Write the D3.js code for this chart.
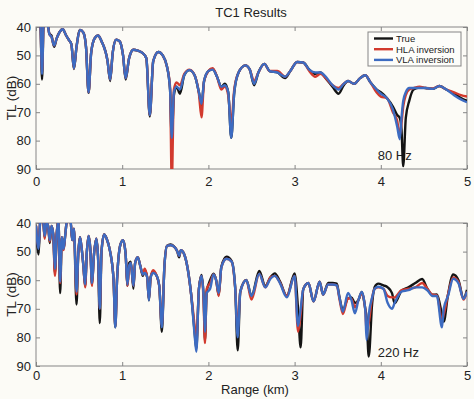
<!DOCTYPE html>
<html>
<head>
<meta charset="utf-8">
<script src="https://cdn.jsdelivr.net/npm/d3@7"></script>
<style>
  html, body { margin: 0; padding: 0; background: #fcfbf6; }
  svg { display: block; font-family: "Liberation Sans", Arial, sans-serif; }
</style>
</head>
<body>
<div id="chart"></div>
<script>
// TC1 results - transmission loss vs range, two frequencies

const seriesNames = ['True', 'HLA inversion', 'VLA inversion'];
const seriesColors = ['#141414', '#d23a2e', '#3d6bc1'];
const xTicks = [0, 1, 2, 3, 4, 5];
const yTicks = [40, 50, 60, 70, 80, 90];

// 80 Hz panel (range in km, TL in dB)
const range80 = [
  0, 0.05, 0.07, 0.09, 0.13, 0.155, 0.18, 0.21, 0.24, 0.28,
  0.31, 0.35, 0.38, 0.41, 0.44, 0.47, 0.51, 0.55, 0.58, 0.61,
  0.64, 0.68, 0.72, 0.76, 0.83, 0.86, 0.89, 0.93, 0.97, 1.01,
  1.04, 1.08, 1.13, 1.18, 1.23, 1.28, 1.32, 1.36, 1.42, 1.47,
  1.52, 1.555, 1.575, 1.6, 1.63, 1.67, 1.72, 1.78, 1.84, 1.89,
  1.92, 1.95, 2.0, 2.05, 2.1, 2.15, 2.19, 2.23, 2.265, 2.3,
  2.35, 2.43, 2.48, 2.53, 2.58, 2.65, 2.71, 2.8, 2.89, 2.95,
  3.03, 3.1, 3.17, 3.24, 3.3, 3.36, 3.44, 3.51, 3.57, 3.62,
  3.69, 3.76, 3.82, 3.88, 3.95, 4.0, 4.07, 4.14, 4.19, 4.22,
  4.24, 4.26, 4.29, 4.33, 4.38, 4.45, 4.52, 4.6, 4.68, 4.76,
  4.85, 4.93, 5.0
];
const true80 = [
  35, 38, 58.5, 37, 38, 42.3, 43, 47, 44, 41.5,
  40.8, 43, 44.5, 46, 54.8, 47, 41, 42, 47, 63.2,
  49, 44, 43, 45, 52, 59, 49, 44.5, 45, 50,
  58.5, 51, 48, 48.3, 49, 51, 71.5, 52, 48.8, 50,
  54, 62, 79.5, 64, 61, 63.5, 57, 55.2, 57, 63,
  67.5, 59, 55.5, 54.8, 57.5, 61, 60, 63, 79, 63,
  56, 53.5, 55, 60.5, 56, 53, 55.5, 56, 58, 55.5,
  52.3, 52.5, 55, 56.5, 56, 58, 61, 63.5, 60.5, 59,
  60, 58, 57, 59.5, 62, 63, 65, 68, 71, 72,
  76, 89, 72, 66, 62, 61.3, 61.5, 61.8, 60.8, 62,
  63.5, 65, 66
];
const hla80 = [
  35, 38, 56, 37, 38, 42.5, 43.5, 46.5, 44, 41.5,
  40.8, 43, 44.5, 46, 54.5, 47, 41, 42, 47, 63,
  49, 44, 43, 45, 52, 58.5, 49, 44.5, 45, 50,
  58, 51, 48, 48.3, 49, 51, 71, 52, 48.8, 50,
  54, 61, 95, 62, 59.5, 60.5, 56.5, 55, 57, 63.5,
  71.8, 59, 55.5, 54.5, 57.5, 62, 61, 64, 74, 62,
  56, 53.5, 55, 59, 56, 53, 55.5, 55.5, 57.5, 55.5,
  52.3, 52.5, 55.5, 57.5, 56.5, 58, 60.5, 61.5, 60, 59,
  60, 58, 57, 59.5, 63, 64.5, 65, 70, 73, 78,
  74, 68, 64, 62, 61.5, 61, 61.5, 61.6, 60.8, 62,
  63, 64, 64.5
];
const vla80 = [
  35, 38, 56.5, 37, 38, 42.5, 43.5, 46.5, 44, 41.5,
  40.8, 43, 44.5, 46, 54.5, 47, 41, 42, 47, 63,
  49, 44, 43, 45, 52, 58.5, 49, 44.5, 45, 50,
  58, 51, 48, 48.3, 49, 51, 71, 52, 48.8, 50,
  54, 62, 79, 63, 61, 62, 57, 55.2, 57, 63,
  67, 59, 55.5, 55, 57.5, 61, 60.5, 63, 79, 63,
  56, 53.5, 55, 60, 56, 53, 55.5, 56, 57.5, 55.5,
  52.3, 52.5, 55, 56, 56, 57.5, 60.5, 62, 60, 59,
  60, 58, 57, 59.5, 62, 63.5, 65, 69, 75, 79.5,
  72, 66, 63, 61.5, 61.5, 61.5, 61.5, 61.8, 60.8, 62,
  64, 65.5, 66.5
];

// 220 Hz panel
const range220 = [
  0, 0.03, 0.05, 0.08, 0.10, 0.12, 0.14, 0.16, 0.18, 0.20,
  0.22, 0.24, 0.26, 0.28, 0.30, 0.32, 0.34, 0.36, 0.40, 0.42,
  0.44, 0.47, 0.49, 0.51, 0.53, 0.55, 0.57, 0.59, 0.61, 0.63,
  0.65, 0.67, 0.70, 0.72, 0.74, 0.76, 0.79, 0.82, 0.86, 0.90,
  0.92, 0.94, 0.98, 1.01, 1.04, 1.06, 1.08, 1.10, 1.13, 1.15,
  1.18, 1.21, 1.24, 1.26, 1.29, 1.31, 1.33, 1.36, 1.40, 1.43,
  1.46, 1.49, 1.52, 1.56, 1.60, 1.64, 1.66, 1.68, 1.72, 1.76,
  1.80, 1.84, 1.86, 1.89, 1.92, 1.945, 1.96, 1.98, 2.02, 2.06,
  2.09, 2.12, 2.15, 2.21, 2.27, 2.31, 2.34, 2.37, 2.44, 2.50,
  2.59, 2.66, 2.72, 2.77, 2.83, 2.91, 3.00, 3.04, 3.07, 3.10,
  3.16, 3.22, 3.29, 3.33, 3.39, 3.44, 3.49, 3.52, 3.56, 3.62,
  3.66, 3.70, 3.74, 3.78, 3.82, 3.835, 3.86, 3.90, 3.93, 3.97,
  4.03, 4.08, 4.13, 4.16, 4.24, 4.32, 4.40, 4.48, 4.54, 4.60,
  4.65, 4.71, 4.73, 4.78, 4.84, 4.90, 4.96, 5.0
];
const true220 = [
  41, 51, 39, 38, 45, 40, 41, 47, 41, 44,
  57.5, 44, 39, 64.5, 45, 49, 44, 39, 39, 46,
  42, 68.5, 51, 45, 49, 55, 62, 50, 44.5, 49,
  61.5, 52, 45.5, 52, 75, 50, 44, 45.5, 50, 60,
  76.5, 60, 47.5, 46, 51, 62, 54, 53.5, 63, 54,
  52, 55, 58.5, 56.5, 59, 67, 59, 57, 58.5, 62,
  78, 55, 48, 47.5, 48.2, 50, 52, 49.5, 51, 56,
  65, 78, 84, 63, 58.2, 66, 81, 64, 60, 57.7,
  60, 65.2, 55.3, 51.8, 53.3, 62.3, 84.5, 64, 59.9, 65.5,
  56.8, 62, 59, 57.6, 60.4, 65.5, 57.6, 70, 83.5, 63.2,
  61, 67.4, 60.5, 65, 61, 61, 61.2, 65.8, 70.4, 66.3,
  66, 68, 67, 64.1, 70, 73, 86.7, 68, 62.3, 61.2,
  61.8, 62.5, 64.5, 68, 63.7, 62.5, 61, 59.6, 63, 65.1,
  65, 72, 74.5, 65, 58, 59.9, 66.3, 63.4
];
const hla220 = [
  41, 48.5, 39, 38, 45.5, 40, 41, 46.5, 41, 44,
  58.5, 44, 39, 61, 45, 49.5, 44, 39, 39, 46,
  42, 65, 51, 45, 49, 55, 62.5, 50, 44.5, 49,
  62, 52, 45.5, 52, 70, 50, 44, 45.5, 50, 60,
  76, 60, 47.5, 46, 51, 62, 56, 54, 62, 54,
  52, 55, 58, 56, 59, 66.5, 59, 56.5, 58.5, 62,
  76, 55, 48, 47.8, 48.2, 50, 51.5, 49.5, 51, 56,
  65, 76, 82, 63, 58.5, 68, 82, 63, 61, 58,
  60, 65.5, 55.5, 52.5, 53.5, 62.5, 77, 64, 60, 66.8,
  57.8, 62.5, 59, 58.5, 60.8, 65.5, 58.5, 78, 72, 63.2,
  61, 67.4, 60.5, 65, 61.5, 61.5, 61.8, 66.5, 71.8, 66.3,
  66.5, 69.5, 67, 64.5, 70.4, 78, 75, 66, 63, 62.5,
  63, 65.5, 66, 66, 63.5, 63, 62.5, 61, 63, 65.1,
  65.2, 74, 72, 65, 59, 60.5, 66.8, 64
];
const vla220 = [
  41, 49, 39, 38, 44.5, 40, 41, 46, 41, 44,
  56, 44, 39, 60.5, 45, 49, 44, 39, 39, 46,
  42, 64, 51, 45, 49, 55, 61.5, 50, 44.5, 49,
  61, 52, 45.5, 52, 70, 50, 44, 45.5, 50, 60,
  76.5, 60, 47.5, 46, 51, 61.5, 55, 54, 62, 54,
  52, 55, 58, 57.5, 59, 67, 59, 57.5, 58.5, 62,
  76.5, 55, 48, 47.8, 48.2, 50, 51.5, 49.5, 51, 56,
  65, 79, 85, 63, 58.5, 66, 78, 64.5, 63, 58,
  60, 64.5, 55.5, 52.5, 53.5, 62.3, 80, 64, 60, 65.5,
  57.8, 62.5, 59.5, 58.5, 61, 66, 58.5, 76, 70, 63.2,
  61, 67.4, 60.5, 65, 61.5, 61.5, 61.8, 66, 71, 64.5,
  67, 71.6, 67, 64.1, 70.4, 80.9, 72, 66, 63, 62.3,
  63, 68, 70, 68, 64, 63.5, 62.5, 62.5, 63.5, 65.5,
  65.5, 76.5, 70, 65.5, 59.5, 61, 66.5, 64
];

const W = 474, H = 399;
const plotLeft = 36, plotRight = 467;
const axisColor = '#858585';
const textColor = '#222';

const svg = d3.select('#chart').append('svg')
  .attr('width', W)
  .attr('height', H);

svg.append('text')
  .attr('x', 251)
  .attr('y', 17)
  .attr('text-anchor', 'middle')
  .style('font-size', '13px')
  .style('fill', textColor)
  .text('TC1 Results');

function drawPanel(id, top, bottom, ranges, values, freqLabel, labelPad, showLegend) {
  const x = d3.scaleLinear().domain([0, 5]).range([plotLeft, plotRight]);
  const y = d3.scaleLinear().domain([40, 90]).range([top, bottom]);
  const g = svg.append('g').attr('class', 'panel-' + id);

  g.append('clipPath')
    .attr('id', 'clip-' + id)
    .append('rect')
    .attr('x', plotLeft)
    .attr('y', top)
    .attr('width', plotRight - plotLeft)
    .attr('height', bottom - top);

  // axes: ticks point inward, mirrored on top and right
  const fmt = d3.format('d');
  const left = g.append('g')
    .attr('transform', `translate(${plotLeft},0)`)
    .call(d3.axisLeft(y).tickValues(yTicks).tickFormat(fmt).tickSizeInner(-4).tickSizeOuter(0).tickPadding(5));
  const btm = g.append('g')
    .attr('transform', `translate(0,${bottom})`)
    .call(d3.axisBottom(x).tickValues(xTicks).tickFormat(fmt).tickSizeInner(-4).tickSizeOuter(0).tickPadding(labelPad));
  const rgt = g.append('g')
    .attr('transform', `translate(${plotRight},0)`)
    .call(d3.axisRight(y).tickValues(yTicks).tickSizeInner(-4).tickSizeOuter(0).tickFormat(''));
  const tp = g.append('g')
    .attr('transform', `translate(0,${top})`)
    .call(d3.axisTop(x).tickValues(xTicks).tickSizeInner(-4).tickSizeOuter(0).tickFormat(''));

  [left, btm, rgt, tp].forEach(a => {
    a.select('.domain').remove();
    a.selectAll('line').attr('stroke', axisColor);
    a.selectAll('text')
      .style('font-size', '13px')
      .style('font-family', '"Liberation Sans", Arial, sans-serif')
      .attr('fill', textColor);
  });

  g.append('rect')
    .attr('x', plotLeft)
    .attr('y', top)
    .attr('width', plotRight - plotLeft)
    .attr('height', bottom - top)
    .attr('fill', 'none')
    .attr('stroke', axisColor)
    .attr('stroke-width', 1);

  g.append('text')
    .attr('transform', `translate(11,${(top + bottom) / 2}) rotate(-90)`)
    .attr('text-anchor', 'middle')
    .attr('dominant-baseline', 'central')
    .style('font-size', '13.5px')
    .style('fill', textColor)
    .text('TL (dB)');

  // frequency label sits under the curves
  g.append('text')
    .attr('x', x(4.0) - 3)
    .attr('y', y(85) + 5)
    .style('font-size', '13px')
    .style('fill', textColor)
    .text(freqLabel);

  const line = d3.line()
    .x((d, i) => x(ranges[i]))
    .y(d => y(d))
    .curve(d3.curveMonotoneX);

  const lines = g.append('g').attr('clip-path', `url(#clip-${id})`);
  values.forEach((vals, k) => {
    lines.append('path')
      .datum(vals)
      .attr('d', line)
      .attr('fill', 'none')
      .attr('stroke', seriesColors[k])
      .attr('stroke-width', 2.4)
      .attr('stroke-linejoin', 'round');
  });

  if (showLegend) {
    const lg = g.append('g').attr('class', 'legend');
    lg.append('rect')
      .attr('x', 368)
      .attr('y', 32)
      .attr('width', 93)
      .attr('height', 34)
      .attr('fill', '#fdfdfa')
      .attr('stroke', axisColor);
    seriesNames.forEach((name, k) => {
      const cy = 38.5 + k * 10.7;
      lg.append('line')
        .attr('x1', 374).attr('x2', 393)
        .attr('y1', cy).attr('y2', cy)
        .attr('stroke', seriesColors[k])
        .attr('stroke-width', 2.4);
      lg.append('text')
        .attr('x', 396)
        .attr('y', cy)
        .attr('dominant-baseline', 'central')
        .style('font-size', '9.5px')
        .style('fill', textColor)
        .text(name);
    });
  }
}

drawPanel('f80', 27, 169, range80, [true80, hla80, vla80], '80 Hz', 8, true);
drawPanel('f220', 223, 366, range220, [true220, hla220, vla220], '220 Hz', 5, false);

svg.append('text')
  .attr('x', 255)
  .attr('y', 394)
  .attr('text-anchor', 'middle')
  .style('font-size', '13px')
  .style('fill', textColor)
  .text('Range (km)');
</script>
</body>
</html>
